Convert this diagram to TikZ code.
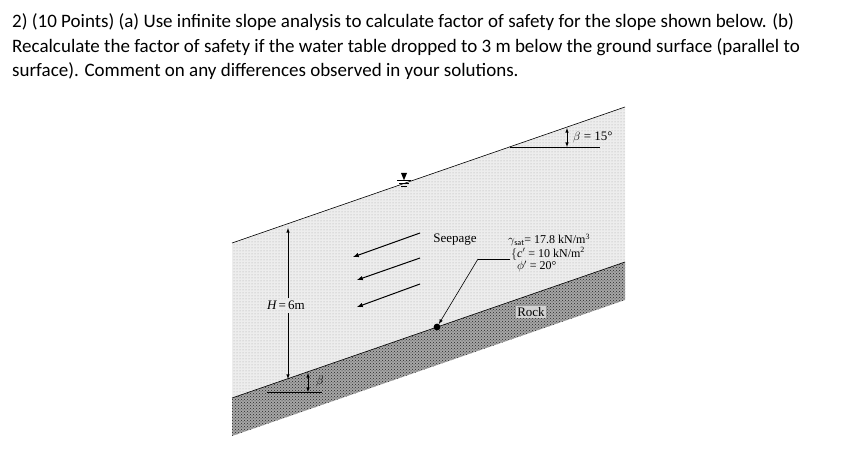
\documentclass[tikz,border=0pt]{standalone}
\usepackage{fontspec}
\setmainfont{Carlito}
\newfontfamily\figfont{Liberation Serif}
\usetikzlibrary{patterns,shapes.geometric}
\begin{document}
\begin{tikzpicture}[x=1pt,y=-1pt,
  title/.style={anchor=west,inner sep=0pt,font=\fontsize{19}{22}\selectfont},
  lab/.style={inner sep=0pt,font=\figfont\fontsize{13}{14}\selectfont},
  prop/.style={inner sep=0pt,anchor=west,font=\figfont\fontsize{12}{13}\selectfont},
  arr/.style={-latex,line width=1pt},
  thin/.style={line width=0.6pt}]
\useasboundingbox (0,0) rectangle (844,449);
\node[title] (t1) at (12,22) {2) (10 Points) (a) Use infinite slope analysis to calculate factor of safety for the slope shown below. (b)};
\node[title] (t2) at (12,47) {Recalculate the factor of safety if the water table dropped to 3 m below the ground surface (parallel to};
\node[title] (t3) at (12,71) {surface). Comment on any differences observed in your solutions.};
% soil
\fill[gray!14] (232,243) -- (625,107) -- (625,262) -- (232,398) -- cycle;
\fill[pattern=dots,pattern color=gray!70] (232,243) -- (625,107) -- (625,262) -- (232,398) -- cycle;
% rock
\fill[gray!70] (232,398) -- (625,262) -- (625,300) -- (232,436) -- cycle;
\fill[pattern=crosshatch dots,pattern color=black!85] (232,398) -- (625,262) -- (625,300) -- (232,436) -- cycle;
\draw[thin] (232,243) -- (625,107);
\draw[thin] (232,398) -- (625,262);
% H arrow
\coordinate (ht) at (288,228);
\coordinate (hb) at (288,379);
\draw[-latex,thin] (288,298) -- (ht);
\draw[-latex,thin] (288,313) -- (hb);
\node[lab,fill=gray!14] (h) at (286,305) {\itshape H\upshape\,=\,6m};
% seepage
\coordinate (s1a) at (420,233); \coordinate (s1b) at (353,257);
\coordinate (s2a) at (420,258); \coordinate (s2b) at (357,280);
\coordinate (s3a) at (420,284); \coordinate (s3b) at (357,307);
\draw[arr] (s1a) -- (s1b);
\draw[arr] (s2a) -- (s2b);
\draw[arr] (s3a) -- (s3b);
\node[lab] (seep) at (455,240) {Seepage};
\node[prop] (g) at (508,240) {$\gamma_{\mathrm{sat}}$= 17.8 kN/m\textsuperscript{3}};
\node[prop] (c) at (511,254) {$\{$\itshape c\upshape$'$ = 10 kN/m\textsuperscript{2}};
\node[prop] (p) at (511,267) {\phantom{$\{$}$\phi'$ = 20°};
\coordinate (k) at (478,259);
\node[circle,fill=black,inner sep=2.4pt] (dot) at (437,327) {};
\draw[thin] (510,259) -- (k);
\draw[-latex,thin] (k) -- (dot);
\node[lab,fill=gray!35,inner sep=1pt] (rock) at (531,312) {Rock};
% water table
\node[isosceles triangle,shape border rotate=-90,fill=black,inner sep=0pt,minimum size=6pt] (wt) at (404,175) {};
\draw[thin] (397,180) -- (411,180) (399,183) -- (409,183) (401,186) -- (407,186);
% beta top
\draw[thin] (510,147) -- (600,147);
\coordinate (bt1) at (567,128); \coordinate (bt2) at (567,147);
\draw[latex-latex,thin] (bt1) -- (bt2);
\node[lab,anchor=west] (b1) at (573,137) {$\beta$ = 15°};
% beta bottom
\draw[thin] (267,392) -- (322,392);
\draw[latex-latex,thin] (308,373) -- (308,392);
\node[lab] (b2) at (320,381) {$\beta$};
\end{tikzpicture}
\end{document}
